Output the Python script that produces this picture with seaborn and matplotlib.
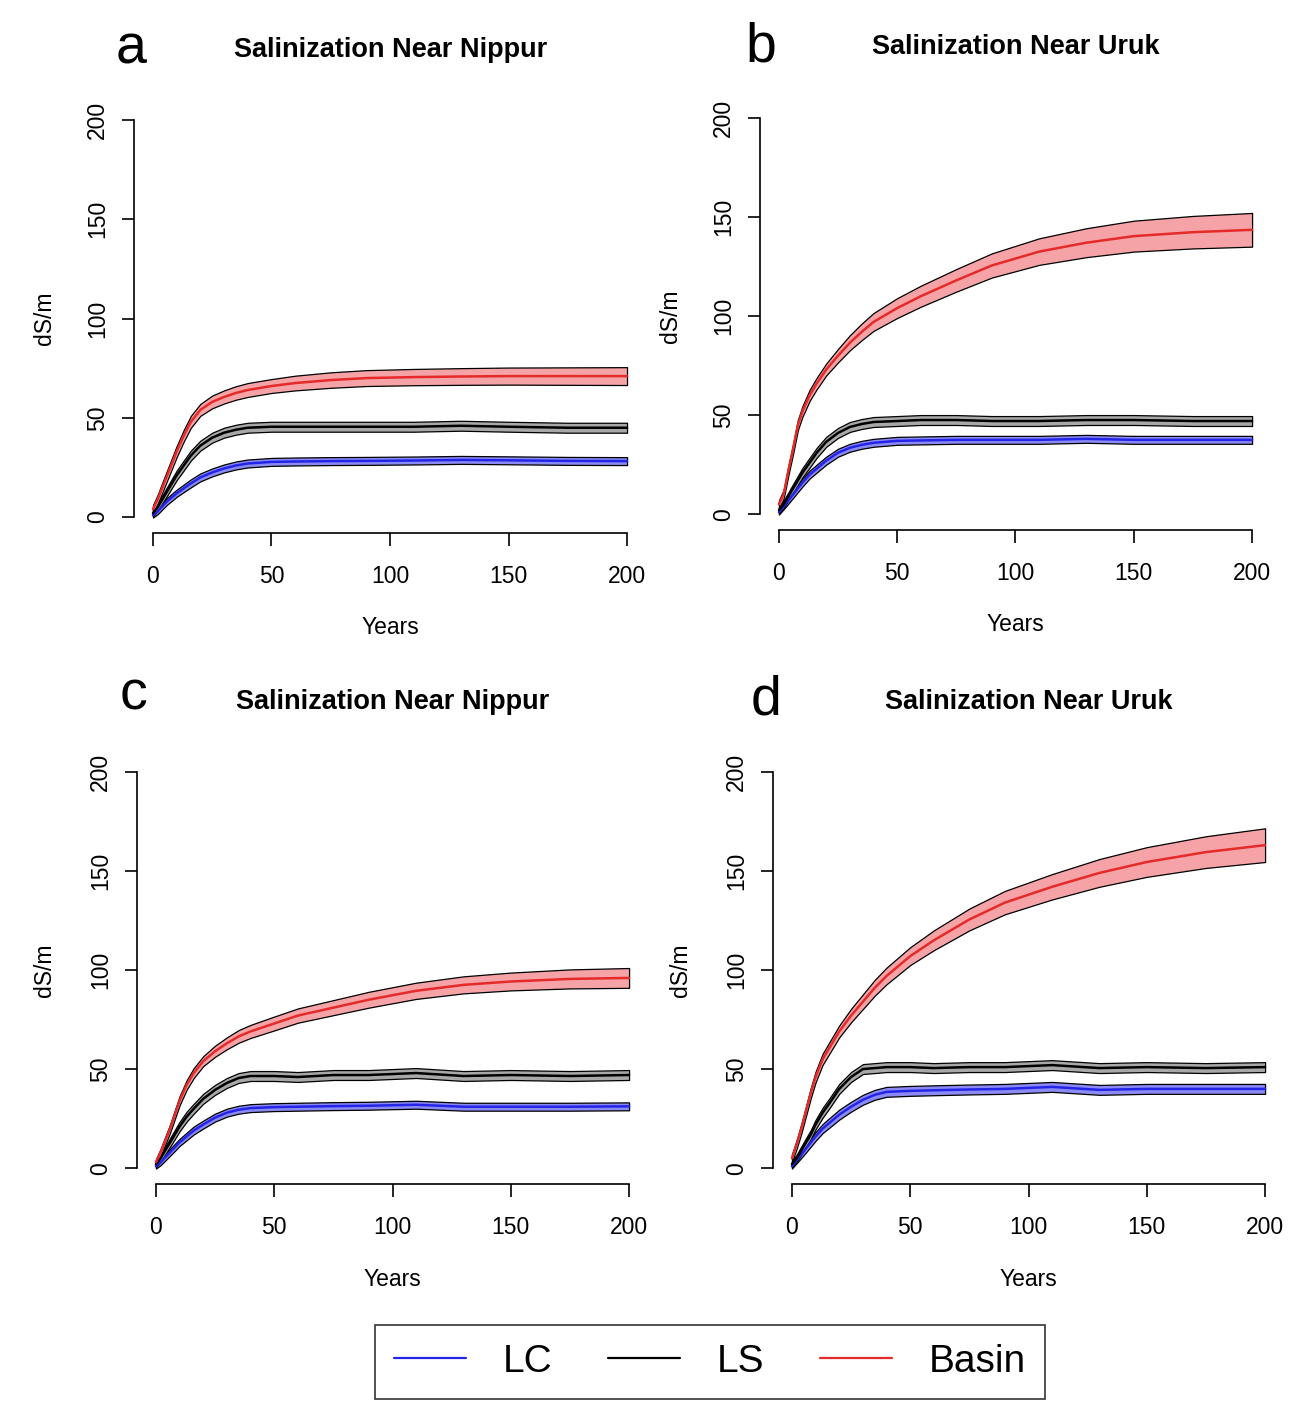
import numpy as np
import pandas as pd
import matplotlib
matplotlib.use("Agg")
import matplotlib.pyplot as plt
import seaborn as sns
from matplotlib.lines import Line2D

# ---------------- data ----------------
years = [0, 2, 4, 6, 8, 10, 13, 16, 20, 25, 30, 35, 40, 50, 60, 75, 90, 110, 130, 150, 175, 200]

# Panel a: Salinization Near Nippur
a_lc = [1, 3, 5.5, 8, 10, 12, 14.5, 17, 20, 22.5, 24.5, 26, 27, 27.8, 28, 28.2, 28.3, 28.5, 28.8, 28.6, 28.3, 28.2]
a_lc_hw = [1.2, 1.5, 1.6, 1.7, 1.8, 1.8, 1.9, 2, 2, 2, 2, 2, 2, 2, 2, 2, 2, 2, 2, 2, 2, 2]
a_ls = [2, 5, 9, 13, 17, 21, 26, 31, 36, 40, 42.5, 44, 45, 45.5, 45.5, 45.5, 45.5, 45.5, 46, 45.5, 45, 45]
a_ls_hw = [1.5, 1.8, 2, 2.2, 2.3, 2.4, 2.5, 2.5, 2.5, 2.5, 2.5, 2.5, 2.5, 2.5, 2.5, 2.5, 2.5, 2.5, 2.5, 2.5, 2.5, 2.5]
a_basin = [4, 9, 15, 21, 27, 33, 41, 48, 54, 58, 60.5, 62.5, 64, 66, 67.5, 69, 70, 70.5, 70.8, 71, 71, 71]
a_basin_hw = [2, 2.3, 2.5, 2.6, 2.7, 2.8, 2.9, 3, 3, 3.2, 3.3, 3.4, 3.5, 3.5, 3.7, 3.9, 4, 4.1, 4.2, 4.3, 4.4, 4.5]

# Panel b: Salinization Near Uruk
b_lc = [1, 4, 7, 10, 13, 16, 20, 23, 27, 31, 33.5, 35, 36, 37, 37.2, 37.5, 37.5, 37.5, 38, 37.5, 37.5, 37.5]
b_lc_hw = [1.2, 1.5, 1.7, 1.8, 1.9, 2, 2, 2, 2, 2, 2, 2, 2, 2, 2, 2, 2, 2, 2, 2, 2, 2]
b_ls = [2, 5, 9, 13, 17, 21, 26, 31, 36.5, 41, 44, 45.5, 46.5, 47, 47.5, 47.5, 47, 47, 47.5, 47.5, 47, 47]
b_ls_hw = [1.5, 1.8, 2, 2.2, 2.3, 2.4, 2.5, 2.5, 2.5, 2.5, 2.5, 2.5, 2.5, 2.5, 2.5, 2.5, 2.5, 2.5, 2.5, 2.5, 2.5, 2.5]
b_basin = [5, 10, 22, 33, 45, 52, 60, 66, 73, 80, 86.5, 92, 97, 104, 110, 118, 125.5, 132.5, 137, 140.3, 142.3, 143.5]
b_basin_hw = [2, 2.2, 2.4, 2.5, 2.6, 2.7, 2.8, 2.9, 3, 3.4, 3.8, 4.2, 4.5, 5, 5.3, 5.7, 6.1, 6.7, 7.3, 7.8, 8.2, 8.5]

# Panel c: Salinization Near Nippur
c_lc = [1, 3, 5.5, 8, 10.5, 13, 16, 19, 22, 25.5, 28, 29.5, 30.3, 30.8, 31, 31.3, 31.5, 32, 31, 31, 31, 31.2]
c_lc_hw = [1.2, 1.5, 1.6, 1.7, 1.8, 1.8, 1.9, 2, 2, 2, 2, 2, 2, 2, 2, 2, 2, 2, 2, 2, 2, 2]
c_ls = [2, 5, 9, 13, 17, 21, 26, 30, 35, 39.5, 43, 45.5, 46.5, 46.5, 46, 47, 47, 48, 46.5, 47, 46.5, 47]
c_ls_hw = [1.5, 1.8, 2, 2.2, 2.3, 2.4, 2.5, 2.5, 2.5, 2.5, 2.5, 2.5, 2.5, 2.5, 2.5, 2.5, 2.5, 2.5, 2.5, 2.5, 2.5, 2.5]
c_basin = [3, 8, 14, 20, 27, 34, 42, 48, 54, 59, 63, 66.5, 69, 73, 77, 81, 85, 89.5, 92.5, 94.2, 95.5, 96]
c_basin_hw = [1.5, 1.8, 2, 2.1, 2.2, 2.3, 2.4, 2.5, 2.5, 2.8, 3, 3.2, 3.3, 3.5, 3.6, 3.8, 4, 4.1, 4.3, 4.5, 4.8, 5]

# Panel d: Salinization Near Uruk
d_lc = [1, 4, 7, 10, 13, 16, 20, 23, 27, 31, 34.5, 37, 38.5, 39, 39.3, 39.7, 40, 41, 39.5, 40, 40, 40]
d_lc_hw = [1.2, 1.5, 1.8, 2, 2.1, 2.2, 2.3, 2.4, 2.5, 2.5, 2.5, 2.5, 2.5, 2.5, 2.5, 2.5, 2.5, 2.5, 2.5, 2.5, 2.5, 2.5]
d_ls = [2, 5, 9, 13, 17, 22, 28, 33, 40, 46, 50, 50.5, 51, 51, 50.5, 51, 51, 52, 50.5, 51, 50.5, 51]
d_ls_hw = [1.5, 1.8, 2, 2.2, 2.3, 2.4, 2.5, 2.5, 2.5, 2.5, 2.5, 2.5, 2.5, 2.5, 2.5, 2.5, 2.5, 2.5, 2.5, 2.5, 2.5, 2.5]
d_basin = [5, 12, 20, 29, 38, 46, 55, 61, 69, 77, 84, 91, 97, 107, 115, 125.5, 134, 142, 149, 154.5, 159.5, 163]
d_basin_hw = [2, 2.2, 2.4, 2.5, 2.6, 2.7, 2.8, 2.9, 3, 3.4, 3.7, 4, 4.2, 4.5, 5, 5.5, 5.9, 6.4, 7, 7.5, 8, 8.5]

series_names = ["LC", "LS", "Basin"]
titles = ["Salinization Near Nippur", "Salinization Near Uruk",
          "Salinization Near Nippur", "Salinization Near Uruk"]
letters = ["a", "b", "c", "d"]
x_ticks = [0, 50, 100, 150, 200]
y_ticks = [0, 50, 100, 150, 200]

# ---------------- style ----------------
sns.set_style("ticks")
plt.rcParams['font.family'] = ['Liberation Sans', 'DejaVu Sans']
plt.rcParams['text.color'] = 'black'

line_colors = {"LC": "#2424E8", "LS": "#000000", "Basin": "#E52A2A"}
fill_colors = {"LC": "#8A8AF2", "LS": "#A8A8A8", "Basin": "#F5A3A6"}

W, H = 1307, 1410
fig = plt.figure(figsize=(W / 100, H / 100), dpi=100)


def px_axes(left, top, right, bottom):
    return fig.add_axes([left / W, 1 - bottom / H, (right - left) / W, (bottom - top) / H])


panel_data = [
    [(a_lc, a_lc_hw), (a_ls, a_ls_hw), (a_basin, a_basin_hw)],
    [(b_lc, b_lc_hw), (b_ls, b_ls_hw), (b_basin, b_basin_hw)],
    [(c_lc, c_lc_hw), (c_ls, c_ls_hw), (c_basin, c_basin_hw)],
    [(d_lc, d_lc_hw), (d_ls, d_ls_hw), (d_basin, d_basin_hw)],
]
boxes = [(134, 104, 646, 533), (760, 102, 1271, 530),
         (137, 756, 648, 1184), (773, 756, 1284, 1184)]
letter_xy = [(131, 50), (761, 47), (133, 695), (766, 700)]
title_xy = [(391, 50), (1016, 47), (393, 702), (1029, 702)]
ylabel_x = [45, 670, 45, 680]

FS = 16.5
for i in range(4):
    ax = px_axes(*boxes[i])
    for name, (mean, hw) in zip(series_names, panel_data[i]):
        m = np.array(mean, dtype=float)
        h = np.array(hw, dtype=float)
        ax.fill_between(years, m - h, m + h, facecolor=fill_colors[name],
                        edgecolor="black", linewidth=0.9, zorder=2)
        sns.lineplot(x=years, y=mean, ax=ax, color=line_colors[name],
                     linewidth=1.8, zorder=3, legend=False)
    ax.set_xlim(-8, 208)
    ax.set_ylim(-8, 208)
    ax.set_xticks(x_ticks)
    ax.set_yticks(y_ticks)
    ax.set_xticklabels([str(v) for v in x_ticks])
    ax.set_yticklabels([str(v) for v in y_ticks], rotation=90, va="center")
    for s in ["top", "right"]:
        ax.spines[s].set_visible(False)
    ax.spines["left"].set_bounds(0, 200)
    ax.spines["bottom"].set_bounds(0, 200)
    for s in ["left", "bottom"]:
        ax.spines[s].set_linewidth(1.2)
        ax.spines[s].set_color("black")
    ax.tick_params(axis="both", length=9, width=1.2, color="black",
                   labelsize=FS, labelcolor="black")
    ax.tick_params(axis="x", pad=14)
    ax.tick_params(axis="y", pad=9)
    ax.set_xlabel("")
    ax.set_ylabel("")
    ax.set_facecolor("white")

    bx = boxes[i]
    xc = (bx[0] + 19 + bx[2] - 19) / 2
    fig.text(xc / W, 1 - (bx[3] + 95) / H, "Years", ha="center", va="center",
             fontsize=FS, color="black")
    yc = (bx[1] + bx[3]) / 2
    fig.text(ylabel_x[i] / W, 1 - yc / H, "dS/m", ha="center", va="center",
             rotation=90, fontsize=FS, color="black")
    fig.text(letter_xy[i][0] / W, 1 - letter_xy[i][1] / H, letters[i],
             ha="center", va="center", fontsize=40, color="black")
    fig.text(title_xy[i][0] / W, 1 - title_xy[i][1] / H, titles[i],
             ha="center", va="center", fontsize=19.5, fontweight="bold", color="black")

handles = [Line2D([0], [0], color=line_colors[n], linewidth=1.6) for n in series_names]
leg = fig.legend(handles, series_names, loc="center",
                 bbox_to_anchor=(710 / W, 1 - 1362 / H), ncol=3, fontsize=28,
                 handlelength=1.85, handletextpad=0.95, columnspacing=1.42,
                 frameon=True, fancybox=False, edgecolor="black",
                 borderpad=0.5, borderaxespad=0)
leg.get_frame().set_linewidth(1.2)
for t in leg.get_texts():
    t.set_color("black")

fig.savefig("out.png", dpi=100, facecolor="white")
